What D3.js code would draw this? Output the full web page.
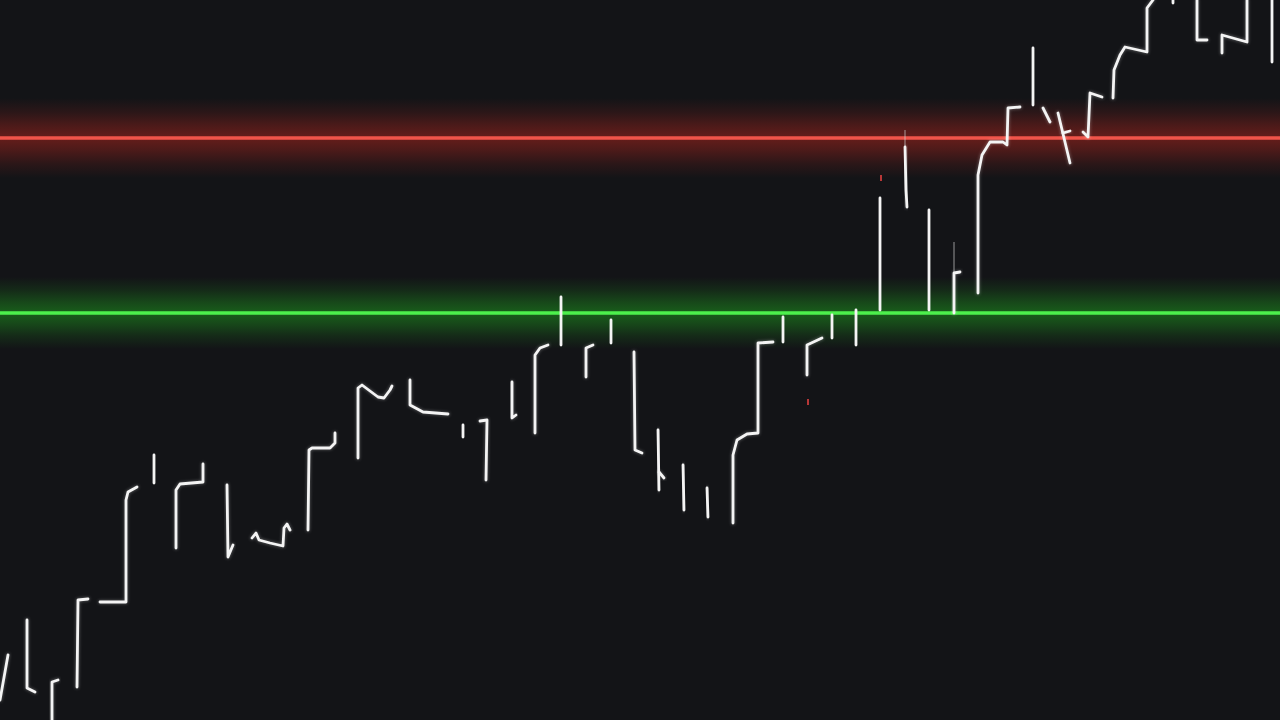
<!DOCTYPE html>
<html>
<head>
<meta charset="utf-8">
<script src="https://cdn.jsdelivr.net/npm/d3@7"></script>
<style>
html,body{margin:0;padding:0;background:#131417;overflow:hidden}
svg{display:block}
</style>
</head>
<body>
<svg id="chart" width="1280" height="720"></svg>
<script>
// ---- data (time index, price) ----
const timeDomain = [0, 128];
const priceDomain = [0, 72];
const resistanceLevel = 58.2;
const supportLevel = 40.7;

// price trace drawn as broken strokes (each: list of [time, price])
const priceStrokes = [
  [[0,2.0],[0.8,6.5]],
  [[2.7,10.0],[2.7,3.2],[3.5,2.8]],
  [[5.8,4.0],[5.2,3.8],[5.2,0]],
  [[8.8,12.1],[7.8,12.0],[7.7,3.3]],
  [[10.0,11.8],[12.6,11.8],[12.6,22.0],[12.8,22.8],[13.7,23.3]],
  [[15.4,26.5],[15.4,23.7]],
  [[17.6,17.2],[17.6,23.0],[18.0,23.6],[20.3,23.8],[20.3,25.6]],
  [[22.7,23.5],[22.8,16.3],[23.3,17.5]],
  [[25.2,18.2],[25.6,18.7],[25.9,18.0],[27.0,17.7],[28.3,17.4],[28.4,19.2],[28.7,19.6],[29.0,19.0]],
  [[30.8,19.0],[30.9,27.0],[31.2,27.2],[33.0,27.2],[33.5,27.7],[33.5,28.7]],
  [[35.8,26.2],[35.8,33.2],[36.2,33.5],[37.8,32.3],[38.4,32.2],[39.0,33.0],[39.2,33.4]],
  [[41.0,34.0],[41.0,31.5],[42.3,30.8],[44.8,30.6]],
  [[46.3,29.5],[46.3,28.3]],
  [[48.0,29.9],[48.7,30.0],[48.6,24.0]],
  [[51.2,33.8],[51.2,30.2],[51.6,30.5]],
  [[53.5,28.7],[53.5,36.5],[54.0,37.2],[54.8,37.5]],
  [[56.1,42.3],[56.1,37.5]],
  [[58.6,34.3],[58.6,37.2],[59.3,37.5]],
  [[61.1,40.0],[61.1,37.7]],
  [[63.4,36.8],[63.5,27.0],[64.2,26.7]],
  [[65.8,29.0],[65.9,23.0]],
  [[65.9,24.8],[66.4,24.2]],
  [[68.3,25.5],[68.4,21.0]],
  [[70.7,23.2],[70.8,20.3]],
  [[73.3,19.7],[73.3,26.5],[73.7,28.0],[74.7,28.6],[75.8,28.7],[75.8,37.7],[77.3,37.8]],
  [[78.3,40.3],[78.3,37.8]],
  [[80.7,34.5],[80.7,37.5],[82.2,38.2]],
  [[83.2,40.5],[83.2,38.2]],
  [[85.6,41.0],[85.6,37.5]],
  [[88.0,52.2],[88.0,41.0]],
  [[90.5,57.3],[90.6,53.0],[90.7,51.3]],
  [[92.9,51.0],[92.9,41.0]],
  [[95.4,40.7],[95.4,44.7],[96.0,44.8]],
  [[97.8,42.7],[97.8,54.5],[98.2,56.5],[99.0,57.8],[100.3,57.8],[100.7,57.5],[100.8,61.2],[102.0,61.3]],
  [[103.3,67.2],[103.3,61.5]],
  [[104.3,61.2],[105.0,59.8]],
  [[105.8,60.7],[107.0,55.7]],
  [[106.3,58.7],[107.0,58.9]],
  [[108.3,58.8],[108.8,58.3],[109.0,62.7],[110.2,62.3]],
  [[111.3,62.2],[111.4,65.0],[112.0,66.5],[112.5,67.3],[114.7,66.8],[114.7,71.2],[115.3,72.0]],
  [[117.3,72.0],[117.3,71.7]],
  [[119.7,72.0],[119.7,68.0],[120.7,68.0]],
  [[122.2,66.7],[122.2,68.5],[124.7,67.8],[124.7,72.0]],
  [[127.2,72.0],[127.2,65.8]]
];
// faint thin wicks
const faintStrokes = [
  [[95.4,44.7],[95.4,47.8]],
  [[90.5,57.3],[90.5,59.0]]
];
// small red marks
const redMarks = [[88.1,54.2],[80.8,31.8]];

// ---- drawing ----
const W = 1280, H = 720;
const svg = d3.select("#chart");
const x = d3.scaleLinear().domain(timeDomain).range([0, W]);
const y = d3.scaleLinear().domain(priceDomain).range([H, 0]);

svg.append("rect").attr("width", W).attr("height", H).attr("fill", "#131417");

const defs = svg.append("defs");
function glowGrad(id, color, peak) {
  const g = defs.append("linearGradient").attr("id", id).attr("x1", 0).attr("y1", 0).attr("x2", 0).attr("y2", 1);
  [[0,0],[0.18,peak*0.3],[0.35,peak*0.7],[0.5,peak],[0.65,peak*0.7],[0.82,peak*0.3],[1,0]].forEach(([o,a]) =>
    g.append("stop").attr("offset", o).attr("stop-color", color).attr("stop-opacity", a));
}
glowGrad("redGlow", "#b8261e", 0.5);
glowGrad("greenGlow", "#1fae1f", 0.48);
const blur = defs.append("filter").attr("id", "blur").attr("x", "-5%").attr("y", "-300%").attr("width", "110%").attr("height", "700%");
blur.append("feGaussianBlur").attr("stdDeviation", 4);
const soft = defs.append("filter").attr("id", "soft").attr("x", "-50%").attr("y", "-50%").attr("width", "200%").attr("height", "200%");
soft.append("feGaussianBlur").attr("stdDeviation", 1.6);

function level(value, color, core, gradId, halfBand) {
  const yy = y(value);
  svg.append("rect").attr("x", 0).attr("width", W)
    .attr("y", yy - halfBand).attr("height", halfBand * 2)
    .attr("fill", `url(#${gradId})`);
  svg.append("line").attr("x1", 0).attr("x2", W).attr("y1", yy).attr("y2", yy)
    .attr("stroke", color).attr("stroke-width", 10).attr("opacity", 0.7).attr("filter", "url(#blur)");
  svg.append("line").attr("x1", 0).attr("x2", W).attr("y1", yy).attr("y2", yy)
    .attr("stroke", core).attr("stroke-width", 3.5);
}
level(resistanceLevel, "#e0302a", "#f0544a", "redGlow", 40);
level(supportLevel, "#2ad82a", "#4cf04c", "greenGlow", 36);

const line = d3.line().x(d => x(d[0])).y(d => y(d[1])).curve(d3.curveLinear);

const g = svg.append("g");
g.selectAll("path.glow").data(priceStrokes).join("path")
  .attr("class", "glow").attr("d", line).attr("fill", "none")
  .attr("stroke", "#ffffff").attr("stroke-width", 4).attr("opacity", 0.25)
  .attr("stroke-linecap", "round").attr("stroke-linejoin", "round").attr("filter", "url(#soft)");
g.selectAll("path.faint").data(faintStrokes).join("path")
  .attr("class", "faint").attr("d", line).attr("fill", "none")
  .attr("stroke", "#cfcfcf").attr("stroke-width", 1).attr("opacity", 0.7);
g.selectAll("path.main").data(priceStrokes).join("path")
  .attr("class", "main").attr("d", line).attr("fill", "none")
  .attr("stroke", "#f4f4f4").attr("stroke-width", 2.8)
  .attr("stroke-linecap", "round").attr("stroke-linejoin", "round");
g.selectAll("rect.red").data(redMarks).join("rect")
  .attr("class", "red").attr("x", d => x(d[0]) - 1).attr("y", d => y(d[1]) - 3)
  .attr("width", 2).attr("height", 6).attr("fill", "#e04040").attr("opacity", 0.8);
</script>
</body>
</html>
